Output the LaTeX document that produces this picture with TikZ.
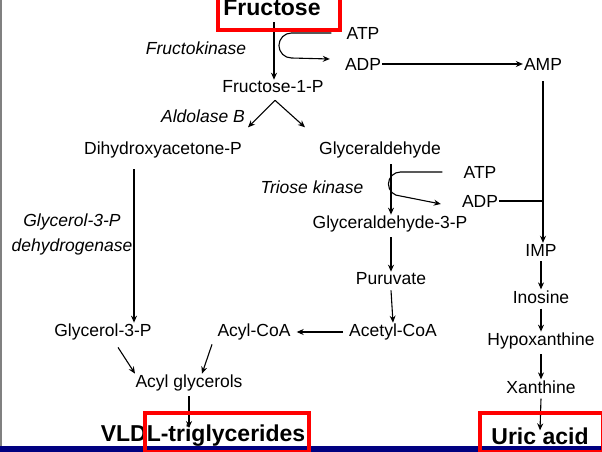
\documentclass[tikz,border=0pt]{standalone}
\usepackage{fontspec}
\setmainfont{Liberation Sans}
\usetikzlibrary{positioning,arrows.meta}
\begin{document}
\begin{tikzpicture}[x=1pt,y=-1pt,
    met/.style={font=\fontsize{17.5}{20}\selectfont, inner sep=1pt},
    enz/.style={font=\fontsize{17.5}{25}\selectfont\itshape, inner sep=1pt, align=center},
    endp/.style={font=\fontsize{23}{25}\selectfont\bfseries, inner sep=1pt},
    hl/.style={draw=red, line width=3.5pt},
    arrow/.style={-{Stealth[length=7pt,width=6pt]}, line width=1.1pt}
]
\useasboundingbox (0,0) rectangle (602,452);
\fill[white] (0,0) rectangle (602,452);
\fill[blue!50!black] (0,446) rectangle (602,452);
\draw[gray, line width=1.5pt] (1,0) -- (1,446);

% Top: fructose
\node[endp] (fru) at (272,8) {Fructose};
\node[met] (atp1) at (363,33) {ATP};
\node[met] (adp1) at (363,64) {ADP};
\node[met] (amp) at (543,64) {AMP};
\node[enz] (fk) at (196,48) {Fructokinase};
\node[met] (f1p) at (273,87) {Fructose-1-P};
\node[enz] (aldb) at (203,116) {Aldolase B};
\node[met] (dhap) at (163,150) {Dihydroxyacetone-P};
\node[met] (gly) at (380,150) {Glyceraldehyde};

% Glyceraldehyde branch
\node[enz] (tk) at (312,187) {Triose kinase};
\node[met] (atp2) at (480,172) {ATP};
\node[met] (adp2) at (480,201) {ADP};
\node[met] (g3p) at (390,224) {Glyceraldehyde-3-P};
\node[met] (pyr) at (391,279) {Puruvate};
\node[met] (acoa) at (393,332) {Acetyl-CoA};
\node[met] (acyl) at (254,332) {Acyl-CoA};

% Glycerol branch
\node[enz] (g3pdh) at (72,234) {Glycerol-3-P\\dehydrogenase};
\node[met] (glyc) at (103,332) {Glycerol-3-P};
\node[met] (acg) at (189,383) {Acyl glycerols};
\node[endp] (vldl) at (203,436) {VLDL-triglycerides};

% Purine branch
\node[met] (imp) at (541,250) {IMP};
\node[met] (ino) at (541,297) {Inosine};
\node[met] (hyp) at (541,341) {Hypoxanthine};
\node[met] (xan) at (541,387) {Xanthine};
\node[endp] (uric) at (540,436) {Uric acid};

\coordinate (j) at (543,201);

% Arrows
\draw[arrow] (fru.south) ++(2,5) coordinate (fa) -- (f1p.north -| fa);
\draw[arrow] ([xshift=-14pt]atp1.west) -- ++(-40,0) arc[start angle=270, end angle=90, radius=12.5] -- ([xshift=-14pt,yshift=5pt]adp1.west);
\draw[arrow] (adp1.east) -- (amp.west);
\draw[arrow] (f1p.south) ++(2,6) coordinate (fb) -- ++(-27,27);
\draw[arrow] (fb) -- ++(30,27);
\draw[arrow] (gly.south) ++(11,5) coordinate (ga) -- (g3p.north -| ga);
\draw[arrow] ([xshift=-20pt]atp2.west) -- ++(-42,0) arc[start angle=270, end angle=90, radius=12] -- ([xshift=-20pt,yshift=-3pt]adp2.west);
\draw[line width=1.1pt] (adp2.east) -- (j);
\draw[arrow] (amp.south) ++(0,10) -- (imp.north -| amp);
\draw[arrow] (g3p.south) ++(1,4) coordinate (gb) -- (pyr.north -| gb);
\draw[arrow] (pyr.south) ++(0,4) -- (acoa.north);
\draw[arrow] (acoa.west) ++(-5,0) -- ([xshift=5pt]acyl.east);
\draw[arrow] (dhap.south) ++(-29,10) coordinate (da) -- (glyc.north -| da);
\draw[arrow] (glyc.south) ++(15,6) -- ([xshift=-54pt]acg.north);
\draw[arrow] (acyl.south) ++(-42,3) -- ([xshift=13pt]acg.north);
\draw[arrow] (acg.south) ++(0,4) -- ([yshift=-4pt]vldl.north -| acg.south);
\draw[arrow] (imp.south) ++(0,4) -- (ino.north);
\draw[arrow] (ino.south) ++(0,4) -- (hyp.north);
\draw[arrow] (hyp.south) ++(0,4) -- (xan.north);
\draw[arrow] (xan.south) ++(0,4) -- ([yshift=-4pt]uric.north);

% Highlight boxes
\draw[hl] (218,-2) rectangle (340,30);
\draw[hl] (145,413) rectangle (309,452);
\draw[hl] (480,413) rectangle (603,452);
\end{tikzpicture}
\end{document}
